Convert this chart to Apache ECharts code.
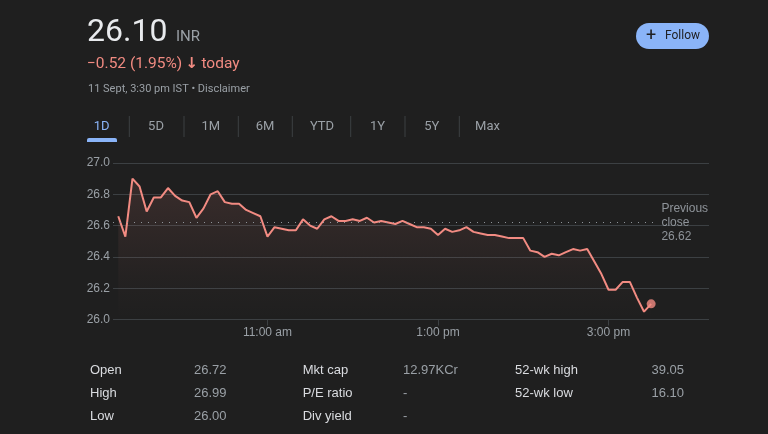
<!DOCTYPE html>
<html>
<head>
<meta charset="utf-8">
<style>
  html, body { margin: 0; padding: 0; background: #1f1f1f; }
  #main { width: 768px; height: 434px; }
</style>
<script src="https://cdn.jsdelivr.net/npm/echarts@6/dist/echarts.min.js"></script>
</head>
<body>
<div id="main"></div>
<script>
// 5-minute closes, 09:15 to 15:30
var startTime = '09:15';
var stepMinutes = 5;
var prices = [
    26.66, 26.53, 26.90, 26.85, 26.69, 26.78, 26.78, 26.84, 26.79, 26.76,
    26.75, 26.65, 26.71, 26.80, 26.82, 26.75, 26.74, 26.74, 26.70, 26.68,
    26.66, 26.53, 26.59, 26.58, 26.57, 26.57, 26.64, 26.60,
    26.58, 26.64, 26.66, 26.63, 26.63, 26.64, 26.63, 26.65, 26.62, 26.63,
    26.62, 26.61, 26.63, 26.61, 26.59, 26.59, 26.58, 26.54, 26.58, 26.56,
    26.57, 26.59, 26.56, 26.55, 26.54, 26.54, 26.53, 26.52, 26.52, 26.52,
    26.44,
    26.43, 26.40, 26.42, 26.41, 26.43, 26.45, 26.44, 26.45, 26.37, 26.29,
    26.19, 26.19, 26.24, 26.24, 26.14, 26.05, 26.10
];
var previousClose = 26.62;
var xTickTimes = ['11:00', '13:00', '15:00'];
var xTickLabels = ['11:00 am', '1:00 pm', '3:00 pm'];
var tabs = ['1D', '5D', '1M', '6M', 'YTD', '1Y', '5Y', 'Max'];
var statLabels = [['Open', 'High', 'Low'], ['Mkt cap', 'P/E ratio', 'Div yield'], ['52-wk high', '52-wk low']];
var statValues = [['26.72', '26.99', '26.00'], ['12.97KCr', '-', '-'], ['39.05', '16.10']];

function toMin(t) {
    var p = t.split(':');
    return parseInt(p[0], 10) * 60 + parseInt(p[1], 10);
}

var t0 = toMin(startTime);
var lineData = prices.map(function (v, i) { return [t0 + i * stepMinutes, v]; });
var lastPoint = lineData[lineData.length - 1];
var tickValues = xTickTimes.map(toMin);
var tickLabelMap = {};
tickValues.forEach(function (v, i) { tickLabelMap[v] = xTickLabels[i]; });

var xMin = 551.3, xMax = 970.7;

var sans = "'Liberation Sans', Arial, sans-serif";
var rob = "Roboto, 'Liberation Sans', Arial, sans-serif";
var grey = '#9aa0a6';
var red = '#f28b82';
var blue = '#8ab4f8';

var myChart = echarts.init(document.getElementById('main'));

var graphics = [
    { type: 'text', left: 87, top: 17, style: { text: '26.10', fill: '#e8eaed', font: '32px ' + rob } },
    { type: 'text', left: 176, top: 30, style: { text: 'INR', fill: grey, font: '15px ' + rob } },
    {
        type: 'text', left: 87, top: 56,
        style: {
            text: '{a|\u22120.52 (1.95%)} {b|\u2193} {a|today}',
            rich: {
                a: { fill: red, fontSize: 15.5, fontFamily: rob },
                b: { fill: red, fontSize: 15, fontWeight: 'bold', fontFamily: "'DejaVu Sans', sans-serif" }
            }
        }
    },
    { type: 'text', left: 88, top: 84, style: { text: '11 Sept, 3:30 pm IST \u2022 Disclaimer', fill: grey, font: '11px ' + rob } },
    // follow button
    { type: 'rect', shape: { x: 636, y: 23, width: 73, height: 26, r: 13 }, style: { fill: blue } },
    { type: 'text', x: 651, y: 36, style: { text: '+', fill: '#202124', font: '18px ' + rob, align: 'center', verticalAlign: 'middle' } },
    { type: 'text', x: 665, y: 36, style: { text: 'Follow', fill: '#202124', font: '12px ' + rob, align: 'left', verticalAlign: 'middle' } },
    // tab underline
    { type: 'rect', shape: { x: 87, y: 138, width: 30, height: 4, r: [2, 2, 0, 0] }, style: { fill: blue } }
];

var tabX = [101.7, 156, 210.8, 265, 322, 377.5, 431.7, 487.5];
var sepX = [129.3, 184, 238.3, 292.3, 350.7, 405, 459.3];
tabs.forEach(function (t, i) {
    graphics.push({ type: 'text', x: tabX[i], y: 127, style: { text: t, fill: i === 0 ? blue : grey, font: '13px ' + rob, align: 'center', verticalAlign: 'middle' } });
});
sepX.forEach(function (x) {
    graphics.push({ type: 'line', shape: { x1: x, y1: 116, x2: x, y2: 137 }, style: { stroke: '#3c4043', lineWidth: 1 } });
});

var colLabelX = [90, 302.7, 515];
var colValueX = [194, 403, 684];
var rowY = [370.7, 393.3, 416];
statLabels.forEach(function (col, c) {
    col.forEach(function (lab, r) {
        graphics.push({ type: 'text', x: colLabelX[c], y: rowY[r], style: { text: lab, fill: '#dadce0', font: '13px ' + sans, verticalAlign: 'middle' } });
        graphics.push({ type: 'text', x: colValueX[c], y: rowY[r], style: { text: statValues[c][r], fill: grey, font: '13px ' + sans, verticalAlign: 'middle', align: c === 2 ? 'right' : 'left' } });
    });
});

var option = {
    backgroundColor: '#1f1f1f',
    animation: false,
    textStyle: { fontFamily: sans },
    grid: { left: 113, right: 59, top: 163, bottom: 114.5 },
    xAxis: {
        type: 'value',
        min: xMin,
        max: xMax,
        axisLine: { show: false },
        splitLine: { show: false },
        axisTick: { show: true, customValues: tickValues, length: 6, lineStyle: { color: '#3c4043' } },
        axisLabel: {
            customValues: tickValues,
            color: grey,
            fontSize: 12,
            margin: 7,
            formatter: function (v) { return tickLabelMap[v] || ''; }
        }
    },
    yAxis: {
        type: 'value',
        min: 26,
        max: 27,
        interval: 0.2,
        axisLine: { show: false },
        axisTick: { show: false },
        axisLabel: { color: grey, fontSize: 12, margin: 3, formatter: function (v) { return v.toFixed(1); } },
        splitLine: { lineStyle: { color: '#3c4043', width: 1 } }
    },
    graphic: graphics,
    series: [
        {
            type: 'line',
            data: lineData,
            showSymbol: false,
            silent: true,
            lineStyle: { color: red, width: 2 },
            areaStyle: {
                origin: 'start',
                color: new echarts.graphic.LinearGradient(0, 0, 0, 1, [
                    { offset: 0, color: 'rgba(242,139,130,0.18)' },
                    { offset: 0.7, color: 'rgba(242,139,130,0.04)' },
                    { offset: 1, color: 'rgba(242,139,130,0)' }
                ])
            },
            markLine: {
                silent: true,
                symbol: 'none',
                lineStyle: { color: grey, type: [1, 6], width: 1, opacity: 0.9 },
                label: {
                    show: true,
                    position: 'end',
                    distance: 6,
                    color: grey,
                    fontSize: 12,
                    lineHeight: 14,
                    align: 'left',
                    padding: [3, 0, 0, 0],
                    formatter: 'Previous\nclose\n' + previousClose.toFixed(2)
                },
                data: [[{ coord: [xMin, previousClose] }, { coord: [933, previousClose] }]]
            }
        },
        {
            type: 'scatter',
            data: [lastPoint],
            symbolSize: 9,
            silent: true,
            itemStyle: { color: red }
        }
    ]
};

myChart.setOption(option);
</script>
</body>
</html>
